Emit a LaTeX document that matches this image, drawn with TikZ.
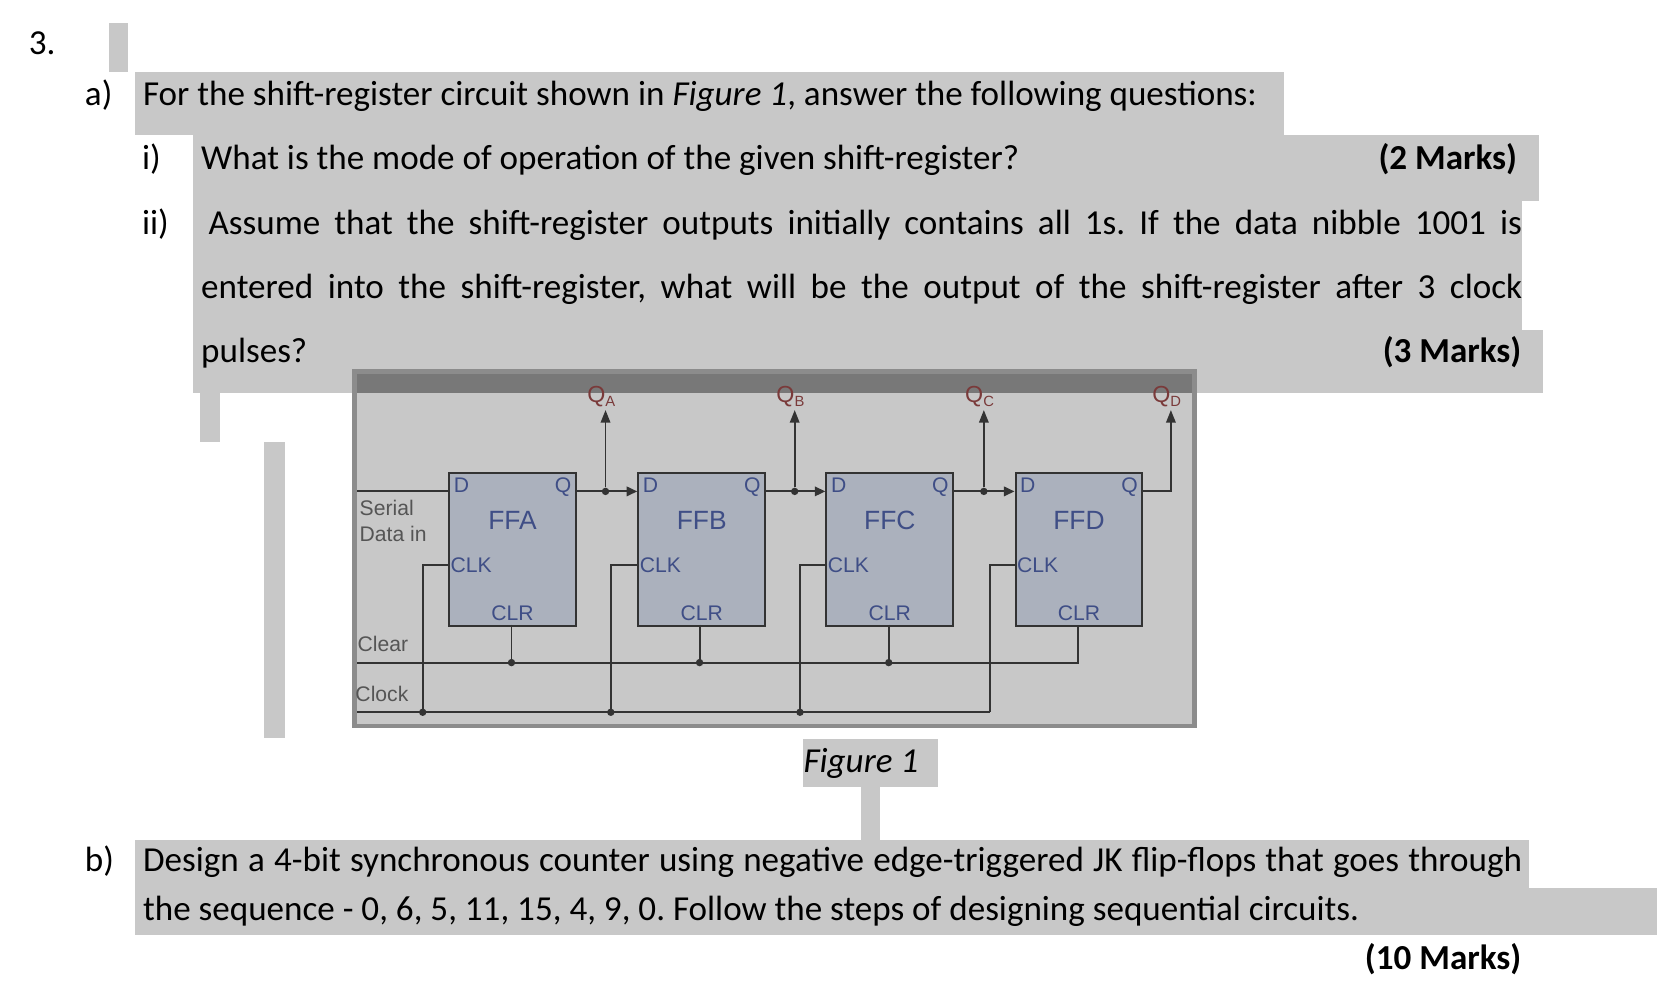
\documentclass[tikz,border=0pt]{standalone}
\usepackage{fontspec}
\setmainfont{Carlito}
\newfontfamily\arialf{Liberation Sans}
\usetikzlibrary{arrows.meta}
\definecolor{hl}{HTML}{C8C8C8}
\definecolor{frm}{HTML}{8C8C8C}
\definecolor{boxf}{HTML}{ABB1BD}
\definecolor{boxt}{HTML}{3F4E86}
\definecolor{qcol}{HTML}{7A3A3A}
\definecolor{wire}{HTML}{333333}
\definecolor{lbl}{HTML}{555555}
\begin{document}
\frenchspacing
\begin{tikzpicture}[x=0.5pt,y=-0.5pt,
  txt/.style={anchor=base west,inner sep=0,font=\fontsize{16.6}{18}\selectfont},
  txtr/.style={anchor=base east,inner sep=0,font=\fontsize{16.6}{18}\selectfont\bfseries},
  ff/.style={draw=wire,line width=1pt,fill=boxf,minimum width=60pt,minimum height=72pt,inner sep=0},
  pin/.style={font=\arialf\fontsize{10}{10}\selectfont,text=boxt,inner sep=2.5pt},
  ffn/.style={font=\arialf\fontsize{12.5}{12}\selectfont,text=boxt},
  wl/.style={draw=wire,line width=0.9pt},
  dot/.style={circle,fill=wire,inner sep=0,minimum size=3.5pt},
  sl/.style={font=\arialf\fontsize{10}{12}\selectfont,text=lbl,inner sep=0,anchor=west,align=left},
  ql/.style={font=\arialf\fontsize{11}{11}\selectfont,text=qcol,inner sep=0}]
\useasboundingbox (0,0) rectangle (1568,936);
\fill[white] (0,0) rectangle (1568,936);
% highlights
\fill[hl] (103,22) rectangle (121,68);
\fill[hl] (128,68) rectangle (1215,128);
\fill[hl] (183,128) rectangle (1456,190);
\fill[hl] (183,190) rectangle (1440,312);
\fill[hl] (183,312) rectangle (1460,372);
\fill[hl] (189,372) rectangle (208,418);
\fill[hl] (250,418) rectangle (270,698);
\fill[hl] (760,699) rectangle (888,745);
\fill[hl] (815,745) rectangle (833,795);
\fill[hl] (128,795) rectangle (1447,840);
\fill[hl] (128,840) rectangle (1568,885);
% figure frame
\fill[frm] (333,349) rectangle (1133,689);
\fill[hl] (338,372) rectangle (1128,685);
\fill[black!40!hl] (338,354) rectangle (1128,372);
% texts
\node[txt] (n3) at (27,52) {3.};
\node[txt] (na) at (80,100) {a)};
\node[txt] (ta) at (135,100) {For the shift-register circuit shown in \textit{Figure 1}, answer the following questions:};
\node[txt] (ni) at (134,160) {i)};
\node[txt] (ti) at (190,160) {What is the mode of operation of the given shift-register?};
\node[txtr] (mi) at (1436,160) {(2 Marks)};
\node[txt] (nii) at (134,222) {ii)};
\node[txt] (t1) at (197,222) {\makebox[1243\dimexpr0.5pt\relax][s]{Assume that the shift-register outputs initially contains all 1s. If the data nibble 1001 is}};
\node[txt] (t2) at (190,282) {\makebox[1250\dimexpr0.5pt\relax][s]{entered into the shift-register, what will be the output of the shift-register after 3 clock}};
\node[txt] (t3) at (190,343) {pulses?};
\node[txtr] (mii) at (1440,343) {(3 Marks)};
\node[txt] (fig) at (760,731) {\textit{Figure 1}};
\node[txt] (nb) at (80,825) {b)};
\node[txt] (b1) at (135,825) {\makebox[1305\dimexpr0.5pt\relax][s]{Design a 4-bit synchronous counter using negative edge-triggered JK flip-flops that goes through}};
\node[txt] (b2) at (135,871) {the sequence - 0, 6, 5, 11, 15, 4, 9, 0. Follow the steps of designing sequential circuits.};
\node[txtr] (mb) at (1440,917) {(10 Marks)};
% flip-flops
\foreach \n/\x/\L in {A/424/FFA,B/603/FFB,C/781/FFC,D/960/FFD}{
  \node[ff,anchor=north west] (f\n) at (\x,447) {};
  \node[pin,anchor=north west] at (f\n.north west) {D};
  \node[pin,anchor=north east] at (f\n.north east) {Q};
  \node[ffn] at ([yshift=-22.5pt]f\n.north) {\L};
  \node[pin,anchor=west,inner sep=1pt] at ([yshift=-44pt]f\n.north west) {CLK};
  \node[pin,anchor=south] at (f\n.south) {CLR};
}
\node[sl] (sd) at (340,493) {Serial\\Data in};
\node[sl] (clr) at (338,609) {Clear};
\node[sl] (clk) at (336,657) {Clock};
\coordinate (sdin) at (338,465);
\draw[wl] (sdin) -- (fA.north west |- sdin);
% Q outputs
\foreach \a/\b/\xd/\s in {A/B/573/A,B/C/752/B,C/D/931/C}{
  \draw[wl,-{Triangle[length=5pt,width=4.5pt]}] (f\a.north east |- sdin) -- (f\b.north west |- sdin);
  \node[dot] (d\s) at (\xd,465) {};
  \node[ql] (q\s) at (\xd-4,375) {Q\raisebox{-2pt}{\scriptsize\s}};
  \draw[wl,-{Triangle[length=6pt,width=4.5pt]}] (d\s) -- (\xd,388);
}
\node[ql] (qD) at (1104,375) {Q\raisebox{-2pt}{\scriptsize D}};
\draw[wl,-{Triangle[length=6pt,width=4.5pt]}] (fD.north east |- sdin) -| (1108,388);
% clear
\coordinate (clrL) at (338,627);
\draw[wl] (clrL) -- (1020,627) -- (1020,591);
\foreach \n/\x in {A/484,B/662,C/841}{
  \draw[wl] (\x,591) -- (\x,627);
  \node[dot] at (\x,627) {};
}
% clock
\coordinate (clkL) at (338,674);
\draw[wl] (clkL) -- (937,674);
\foreach \n/\x in {A/400,B/578,C/757}{
  \draw[wl] (f\n.west |- 0,535) -| (\x,674);
  \node[dot] at (\x,674) {};
}
\draw[wl] (fD.west |- 0,535) -| (937,674);
\end{tikzpicture}
\end{document}
